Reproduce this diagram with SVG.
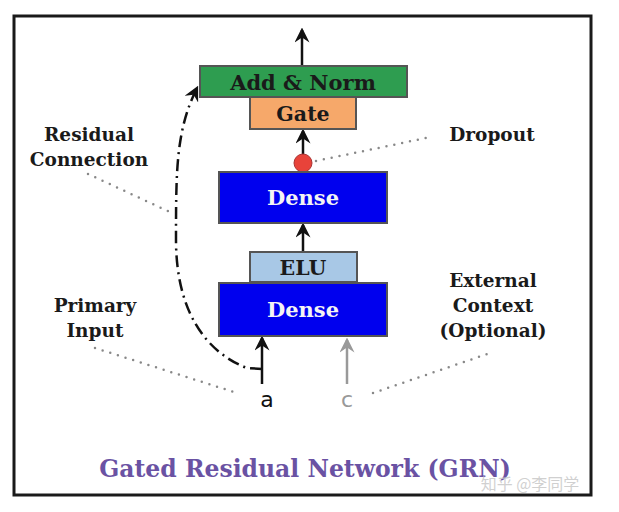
<svg xmlns="http://www.w3.org/2000/svg" width="619" height="512" viewBox="0 0 619 512">
<defs>
<style>
.lbl{font-family:"DejaVu Serif","Liberation Serif",serif;font-weight:bold;fill:#1a1a1a;text-anchor:middle}
.box{stroke:#555;stroke-width:2}
.dot{fill:none;stroke:#888;stroke-width:2.5;stroke-linecap:round;stroke-dasharray:0 8}
.arr{stroke:#111;stroke-width:2.5;fill:none}
</style>
<marker id="ah" viewBox="0 0 12 12" refX="10" refY="6" markerWidth="6" markerHeight="6" orient="auto" markerUnits="strokeWidth">
<path d="M0,0 L12,6 L0,12 L4,6 Z" fill="#111"/>
</marker>
<marker id="ahg" viewBox="0 0 12 12" refX="10" refY="6" markerWidth="6" markerHeight="6" orient="auto" markerUnits="strokeWidth">
<path d="M0,0 L12,6 L0,12 L4,6 Z" fill="#999"/>
</marker>
</defs>
<rect x="0" y="0" width="619" height="512" fill="#fff"/>
<rect x="14" y="16" width="577" height="479" fill="none" stroke="#1a1a1a" stroke-width="3"/>

<g id="connectors">
<line class="arr" x1="302" y1="66" x2="302" y2="30" marker-end="url(#ah)"/>
<line class="arr" x1="303" y1="156" x2="303" y2="131" marker-end="url(#ah)"/>
<line class="arr" x1="303" y1="252" x2="303" y2="225" marker-end="url(#ah)"/>
<line class="arr" x1="262" y1="384" x2="262" y2="338" marker-end="url(#ah)"/>
<line x1="347" y1="384" x2="347" y2="340" stroke="#999" stroke-width="2.5" marker-end="url(#ahg)"/>
<path d="M262,369 L247,368 C205,352 176,310 176,240 C176,170 176,130 197,88" fill="none" stroke="#111" stroke-width="2.5" stroke-dasharray="12 5 2 5" marker-end="url(#ah)"/>
<line class="dot" x1="88" y1="174" x2="172" y2="213"/>
<line class="dot" x1="316" y1="161" x2="426" y2="138"/>
<line class="dot" x1="95" y1="348" x2="237" y2="393"/>
<line class="dot" x1="373" y1="393" x2="493" y2="352"/>
</g>

<g id="add-norm">
<rect class="box" x="200" y="66" width="207" height="31" fill="#2e9d50"/>
<text class="lbl" x="303" y="90" font-size="21">Add &amp; Norm</text>
</g>
<g id="gate">
<rect class="box" x="250" y="97" width="106" height="32" fill="#f6a86a"/>
<text class="lbl" x="303" y="121" font-size="20.5">Gate</text>
</g>
<g id="dropout">
<circle cx="303" cy="163" r="9" fill="#e8433a" stroke="#a33" stroke-width="1"/>
</g>
<g id="dense-top">
<rect class="box" x="219" y="172" width="168" height="51" fill="#0000ee" stroke="#222"/>
<text class="lbl" x="303" y="205" font-size="21" style="fill:#f4f4f4">Dense</text>
</g>
<g id="elu">
<rect class="box" x="250" y="252" width="107" height="30" fill="#a8c8e6"/>
<text class="lbl" x="303" y="275" font-size="20.5">ELU</text>
</g>
<g id="dense-bottom">
<rect class="box" x="219" y="283" width="168" height="53" fill="#0000ee" stroke="#222"/>
<text class="lbl" x="303" y="317" font-size="21" style="fill:#f4f4f4">Dense</text>
</g>

<g id="labels">
<text class="lbl" x="89" y="141" font-size="18.5">Residual</text>
<text class="lbl" x="89" y="166" font-size="18.5">Connection</text>
<text class="lbl" x="492" y="141" font-size="18.5">Dropout</text>
<text class="lbl" x="493" y="287" font-size="18.5">External</text>
<text class="lbl" x="493" y="312" font-size="18.5">Context</text>
<text class="lbl" x="493" y="337" font-size="18.5">(Optional)</text>
<text class="lbl" x="95" y="312" font-size="18.5">Primary</text>
<text class="lbl" x="95" y="337" font-size="18.5">Input</text>
<text x="267" y="407" font-size="22" font-family="DejaVu Sans, sans-serif" fill="#111" text-anchor="middle">a</text>
<text x="347" y="407" font-size="22" font-family="DejaVu Sans, sans-serif" fill="#999" text-anchor="middle">c</text>
<text x="305" y="477" font-size="23.5" font-family="DejaVu Serif, Liberation Serif, serif" font-weight="bold" fill="#6a52a3" text-anchor="middle">Gated Residual Network (GRN)</text>
<text x="530" y="490" font-size="16" font-family="Noto Sans CJK SC, sans-serif" fill="#c8c8c8" fill-opacity="0.85" text-anchor="middle">知乎 @李同学</text>
</g>
</svg>
